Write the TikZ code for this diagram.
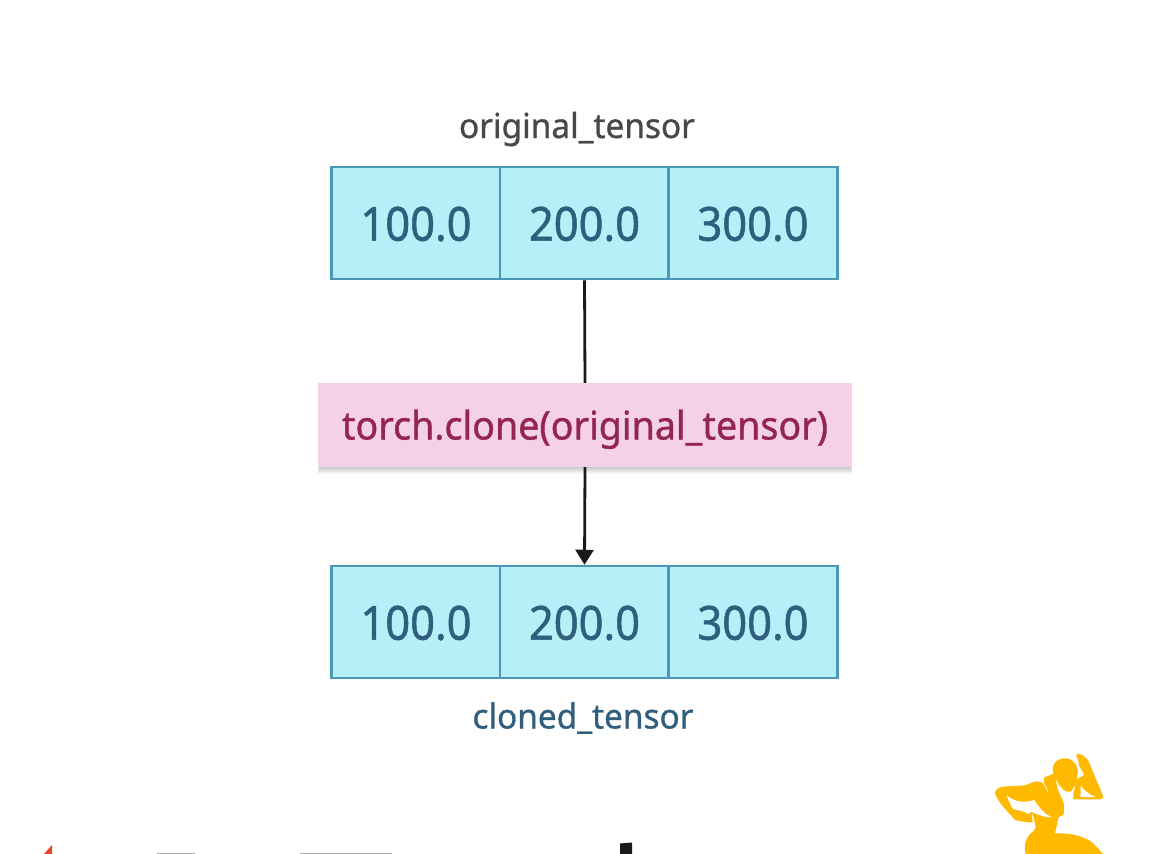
\documentclass[tikz,border=0pt]{standalone}
\usepackage{fontspec}
\setmainfont{Noto Sans}
\newfontfamily\cellfont[FakeBold=1.1,FakeStretch=0.925]{Noto Sans}
\newfontfamily\opfont[FakeBold=0.9,FakeStretch=0.955]{Noto Sans}
\newfontfamily\capfont[FakeBold=0.8,FakeStretch=0.97]{Noto Sans}
\usetikzlibrary{arrows.meta}
\definecolor{cellfill}{HTML}{B5F0F9}
\definecolor{celldraw}{HTML}{4A97B8}
\definecolor{celltext}{HTML}{2F5F7C}
\definecolor{opfill}{HTML}{F4D1E7}
\definecolor{optext}{HTML}{942450}
\definecolor{toptext}{HTML}{484848}
\definecolor{arrowk}{HTML}{1A1A1A}
\definecolor{logoy}{HTML}{FFBA00}
\definecolor{logor}{HTML}{E8452C}
\definecolor{logog}{HTML}{B0B0B0}
\tikzset{
  cell/.style={draw=celldraw,line width=2.5pt,fill=cellfill,text=celltext,minimum width=169pt,minimum height=112pt,inner sep=0pt,text height=35.4pt,text depth=0pt,font=\cellfont\fontsize{47}{54}\selectfont},
  opbox/.style={fill=opfill,text=optext,minimum width=534pt,minimum height=84pt,inner sep=0pt,text height=29pt,text depth=0pt,font=\opfont\fontsize{39.4}{46}\selectfont},
  captxt/.style={inner sep=0pt,anchor=base,font=\capfont\fontsize{34.4}{40}\selectfont},
  link/.style={draw=arrowk,line width=2.8pt},
  arrowed/.style={-{Triangle[length=15pt,width=18pt]}}
}
\begin{document}
\begin{tikzpicture}[x=1pt,y=-1pt]
\useasboundingbox (0,0) rectangle (1170,854);
\fill[white] (0,0) rectangle (1170,854);
\begin{scope}
\clip (0,0) rectangle (1170,854);
% logo remnants
\fill[logor] (44,854) -- (52,845) -- (52,854) -- cycle;
\fill[logog] (157,853) rectangle (195,854);
\fill[logog] (300,853) rectangle (392,854);
\fill[arrowk] (620,843.5) -- (632,842.5) -- (632,854) -- (620,854) -- cycle;
\begin{scope}[shift={(960,740)},x=0.3333pt,y=-0.3333pt]
  % head
  \fill[logoy] (283,108) .. controls (270,80) and (285,55) .. (315,55)
    .. controls (345,55) and (358,85) .. (352,108)
    .. controls (350,125) and (345,140) .. (332,155)
    .. controls (318,160) and (300,145) .. (283,108) -- cycle;
  % raised arm and hair
  \fill[logoy] (350,42) .. controls (358,38) and (375,48) .. (385,62)
    -- (426,160) .. controls (432,172) and (428,178) .. (420,178)
    -- (340,178) -- (340,158) .. controls (345,150) and (345,135) .. (348,120)
    -- (372,105) .. controls (370,95) and (352,75) .. (355,62)
    .. controls (352,55) and (348,48) .. (350,42) -- cycle;
  \fill[white] (362,137) .. controls (372,148) and (385,165) .. (408,171)
    .. controls (392,172) and (375,172) .. (360,170)
    .. controls (365,160) and (360,148) .. (362,137) -- cycle;
  % torso, left arm, hips
  \fill[logoy] (252,113) -- (282,100)
    -- (288,120) .. controls (292,150) and (300,165) .. (308,180)
    .. controls (314,195) and (313,215) .. (310,225)
    -- (296,231) -- (285,280)
    .. controls (320,278) and (370,285) .. (400,310)
    -- (432,345) -- (198,345)
    .. controls (190,320) and (195,290) .. (222,272)
    .. controls (232,268) and (222,235) .. (215,215)
    -- (218,248) .. controls (205,247) and (185,245) .. (165,240)
    .. controls (145,215) and (115,190) .. (105,160)
    .. controls (105,148) and (115,143) .. (130,140)
    .. controls (160,137) and (195,140) .. (210,130)
    .. controls (225,122) and (240,122) .. (252,132) -- cycle;
  \fill[white] (140,165) .. controls (160,185) and (190,190) .. (222,180)
    .. controls (240,205) and (255,225) .. (278,232)
    .. controls (255,233) and (235,225) .. (215,215)
    -- (205,222) .. controls (190,212) and (170,210) .. (160,208)
    .. controls (150,195) and (145,180) .. (140,165) -- cycle;
  \fill[white] (249,124) .. controls (256,135) and (262,148) .. (265,157)
    .. controls (258,148) and (252,135) .. (249,124) -- cycle;
\end{scope}
\end{scope}
% captions
\node[captxt,text=toptext] (origcap) at (577,138) {original\_tensor};
\node[captxt,text=celltext] (clonecap) at (583,728.5) {cloned\_tensor};
% top row
\node[cell] (a1) at (416,223) {100.0};
\node[cell] (a2) at (584.5,223) {200.0};
\node[cell] (a3) at (753,223) {300.0};
% bottom row
\node[cell] (b1) at (416,622) {100.0};
\node[cell] (b2) at (584.5,622) {200.0};
\node[cell] (b3) at (753,622) {300.0};
% shadow of the operation box
\foreach \g in {1,...,9}
  \fill[black,opacity=0.03] (320-\g/4,398-\g/2) rectangle (850+\g/4,465+\g);
% operation
\node[opbox] (op) at (585,425) {torch.clone(original\_tensor)};
\draw[link] (a2.south) -- (op.north);
\draw[link,arrowed] (op.south) -- (b2.north);
\end{tikzpicture}
\end{document}
